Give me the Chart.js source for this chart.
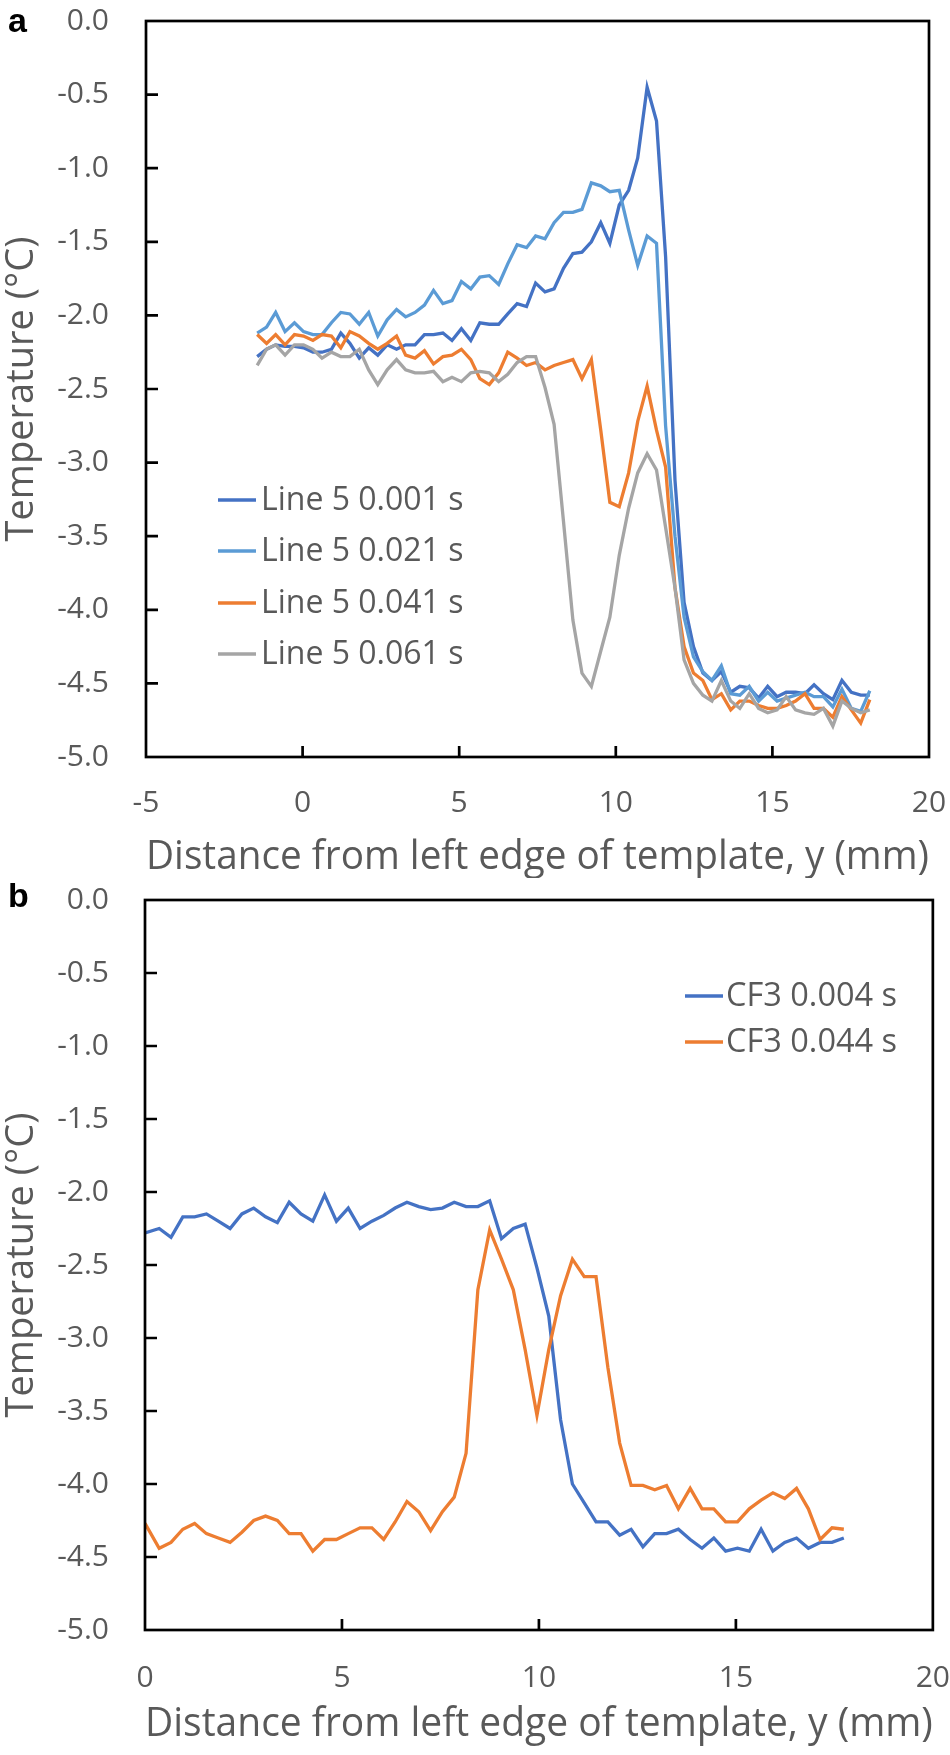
<!DOCTYPE html>
<html>
<head>
<meta charset="utf-8">
<script src="https://cdn.jsdelivr.net/npm/chart.js@4.4.0/dist/chart.umd.min.js"></script>
<style>
  html, body { margin: 0; padding: 0; background: #fff; }
  #wrap { position: relative; width: 950px; height: 1755px; }
  canvas { position: absolute; left: 0; }
</style>
</head>
<body>
<div id="wrap">
  <canvas id="chartA" width="950" height="878" style="top:0"></canvas>
  <canvas id="chartB" width="950" height="877" style="top:878px"></canvas>
</div>
<script>
// --- DATA: panel a (Line 5) ---
const xA = [-1.45, -1.15, -0.86, -0.56, -0.26, 0.03, 0.33, 0.62, 0.92, 1.22,
  1.51, 1.81, 2.11, 2.40, 2.70, 3.00, 3.29, 3.59, 3.89, 4.18,
  4.48, 4.77, 5.07, 5.37, 5.66, 5.96, 6.26, 6.55, 6.85, 7.15,
  7.44, 7.74, 8.03, 8.33, 8.63, 8.92, 9.22, 9.52, 9.81, 10.11,
  10.41, 10.70, 11.00, 11.30, 11.59, 11.89, 12.18, 12.48, 12.78, 13.07,
  13.37, 13.67, 13.96, 14.26, 14.56, 14.85, 15.15, 15.44, 15.74, 16.04,
  16.33, 16.63, 16.93, 17.22, 17.52, 17.82, 18.11];

const line5_001 = [-2.28, -2.23, -2.20, -2.21, -2.21, -2.22, -2.25, -2.25, -2.23, -2.12,
  -2.19, -2.29, -2.22, -2.27, -2.20, -2.23, -2.20, -2.20, -2.13, -2.13,
  -2.12, -2.17, -2.09, -2.17, -2.05, -2.06, -2.06, -1.99, -1.92, -1.94,
  -1.78, -1.84, -1.82, -1.68, -1.58, -1.57, -1.50, -1.37, -1.51, -1.25,
  -1.15, -0.93, -0.45, -0.68, -1.60, -3.12, -3.95, -4.25, -4.43, -4.48,
  -4.42, -4.56, -4.52, -4.53, -4.60, -4.52, -4.59, -4.56, -4.56, -4.57,
  -4.51, -4.57, -4.61, -4.48, -4.56, -4.58, -4.58];

const line5_021 = [-2.12, -2.08, -1.98, -2.11, -2.05, -2.11, -2.13, -2.13, -2.05, -1.98,
  -1.99, -2.06, -1.98, -2.14, -2.03, -1.96, -2.01, -1.98, -1.93, -1.83,
  -1.92, -1.90, -1.77, -1.82, -1.74, -1.73, -1.79, -1.65, -1.52, -1.54,
  -1.46, -1.48, -1.37, -1.30, -1.30, -1.28, -1.10, -1.12, -1.16, -1.15,
  -1.42, -1.66, -1.46, -1.51, -2.75, -3.50, -4.05, -4.32, -4.42, -4.48,
  -4.38, -4.57, -4.58, -4.52, -4.62, -4.56, -4.62, -4.60, -4.58, -4.56,
  -4.59, -4.59, -4.66, -4.54, -4.67, -4.69, -4.55];

const line5_041 = [-2.13, -2.19, -2.13, -2.20, -2.13, -2.14, -2.17, -2.13, -2.14, -2.22,
  -2.11, -2.14, -2.19, -2.23, -2.19, -2.14, -2.27, -2.29, -2.24, -2.33,
  -2.28, -2.27, -2.23, -2.30, -2.43, -2.47, -2.39, -2.25, -2.29, -2.34,
  -2.32, -2.37, -2.34, -2.32, -2.30, -2.43, -2.30, -2.78, -3.27, -3.30,
  -3.07, -2.72, -2.48, -2.78, -3.03, -3.85, -4.25, -4.43, -4.48, -4.61,
  -4.57, -4.68, -4.62, -4.62, -4.65, -4.67, -4.67, -4.65, -4.62, -4.57,
  -4.67, -4.67, -4.73, -4.59, -4.68, -4.77, -4.61];

const line5_061 = [-2.34, -2.23, -2.20, -2.27, -2.20, -2.20, -2.23, -2.29, -2.25, -2.28,
  -2.28, -2.23, -2.37, -2.47, -2.37, -2.30, -2.37, -2.39, -2.39, -2.38,
  -2.45, -2.42, -2.45, -2.39, -2.38, -2.39, -2.45, -2.40, -2.32, -2.28,
  -2.28, -2.49, -2.74, -3.40, -4.07, -4.43, -4.52, -4.28, -4.05, -3.63,
  -3.31, -3.07, -2.94, -3.05, -3.44, -3.85, -4.34, -4.50, -4.58, -4.62,
  -4.48, -4.62, -4.67, -4.57, -4.67, -4.70, -4.68, -4.59, -4.68, -4.70,
  -4.71, -4.67, -4.79, -4.62, -4.67, -4.70, -4.68];

// --- DATA: panel b (CF3) ---
const xB = [0.00, 0.36, 0.66, 0.96, 1.26, 1.56, 1.86, 2.16, 2.46, 2.76,
  3.06, 3.36, 3.66, 3.96, 4.26, 4.56, 4.86, 5.16, 5.46, 5.76,
  6.06, 6.35, 6.65, 6.95, 7.25, 7.55, 7.85, 8.15, 8.45, 8.75,
  9.05, 9.35, 9.65, 9.95, 10.25, 10.55, 10.85, 11.15, 11.45, 11.75,
  12.05, 12.34, 12.64, 12.94, 13.24, 13.54, 13.84, 14.14, 14.44, 14.74,
  15.04, 15.34, 15.64, 15.94, 16.24, 16.54, 16.84, 17.14, 17.44, 17.74];

const cf3_004 = [-2.28, -2.25, -2.31, -2.17, -2.17, -2.15, -2.20, -2.25, -2.15, -2.11,
  -2.17, -2.21, -2.07, -2.15, -2.20, -2.02, -2.20, -2.11, -2.25, -2.20,
  -2.16, -2.11, -2.07, -2.10, -2.12, -2.11, -2.07, -2.10, -2.10, -2.06,
  -2.32, -2.25, -2.22, -2.52, -2.85, -3.56, -4.00, -4.13, -4.26, -4.26,
  -4.35, -4.31, -4.43, -4.34, -4.34, -4.31, -4.38, -4.44, -4.37, -4.46,
  -4.44, -4.46, -4.31, -4.46, -4.40, -4.37, -4.44, -4.40, -4.40, -4.37];

const cf3_044 = [-4.27, -4.44, -4.40, -4.31, -4.27, -4.34, -4.37, -4.40, -4.33, -4.25,
  -4.22, -4.25, -4.34, -4.34, -4.46, -4.38, -4.38, -4.34, -4.30, -4.30,
  -4.38, -4.26, -4.12, -4.19, -4.32, -4.19, -4.09, -3.79, -2.67, -2.26,
  -2.46, -2.67, -3.08, -3.53, -3.08, -2.71, -2.46, -2.58, -2.58, -3.20,
  -3.72, -4.01, -4.01, -4.04, -4.01, -4.17, -4.03, -4.17, -4.17, -4.26,
  -4.26, -4.17, -4.11, -4.06, -4.10, -4.03, -4.17, -4.38, -4.30, -4.31];

// --- TICKS ---
const xTicksA = [-5, 0, 5, 10, 15, 20];
const xTicksB = [0, 5, 10, 15, 20];
const yTicks = [0, -0.5, -1, -1.5, -2, -2.5, -3, -3.5, -4, -4.5, -5];

const xTitle = "Distance from left edge of template, y (mm)";
const yTitle = "Temperature (°C)";

const GREY = "#595959";
Chart.defaults.font.family = "'Open Sans', sans-serif";
Chart.defaults.color = GREY;

function pts(xs, ys) {
  return xs.map((x, i) => ({ x: x, y: ys[i] }));
}

// frame, inward tick marks, in-plot legend and panel letter
const decorPlugin = {
  id: "decor",
  afterDatasetsDraw(chart, args, o) {
    const { ctx, chartArea: a, scales } = chart;
    const x = scales.x, y = scales.y;
    ctx.save();
    ctx.strokeStyle = "#000";
    ctx.lineWidth = 2.7;
    ctx.beginPath();
    y.ticks.forEach(t => {
      if (t.value <= y.min || t.value >= y.max) return;
      const py = y.getPixelForValue(t.value);
      ctx.moveTo(a.left, py);
      ctx.lineTo(a.left + 12, py);
    });
    x.ticks.forEach(t => {
      if (t.value <= x.min || t.value >= x.max) return;
      const px = x.getPixelForValue(t.value);
      ctx.moveTo(px, a.bottom);
      ctx.lineTo(px, a.bottom - 11);
    });
    ctx.stroke();
    ctx.strokeRect(a.left, a.top, a.right - a.left, a.bottom - a.top);

    // legend
    ctx.font = o.legendSize + "px 'Open Sans', sans-serif";
    ctx.textBaseline = "middle";
    ctx.textAlign = "left";
    chart.data.datasets.forEach((ds, i) => {
      const ry = o.rows[i];
      ctx.strokeStyle = ds.borderColor;
      ctx.lineWidth = 3.3;
      ctx.beginPath();
      ctx.moveTo(o.lineX0, ry);
      ctx.lineTo(o.lineX1, ry);
      ctx.stroke();
      ctx.fillStyle = GREY;
      ctx.fillText(ds.label, o.textX, ry + 1);
    });

    // panel letter
    ctx.font = "bold 34px 'Liberation Sans', Arial, sans-serif";
    ctx.textBaseline = "alphabetic";
    ctx.fillStyle = "#000";
    ctx.fillText(o.letter, 8, o.letterY);
    ctx.restore();
  }
};

function makeChart(id, datasets, xTicks, g) {
  return new Chart(document.getElementById(id), {
    type: "scatter",
    data: { datasets: datasets },
    options: {
      responsive: false,
      animation: false,
      devicePixelRatio: 1,
      layout: { padding: { left: 0, right: g.padRight, top: g.padTop, bottom: 0 } },
      datasets: {
        scatter: { showLine: true, pointRadius: 0, borderWidth: 3.3, tension: 0, fill: false }
      },
      scales: {
        x: {
          type: "linear",
          min: xTicks[0],
          max: xTicks[xTicks.length - 1],
          afterBuildTicks: s => { s.ticks = xTicks.map(v => ({ value: v })); },
          afterFit: s => { s.height = g.xHeight; },
          grid: { display: false, drawTicks: true, tickLength: g.xTickGap },
          border: { display: false },
          ticks: {
            autoSkip: false, maxRotation: 0, padding: 0,
            font: { size: 30, lineHeight: 1.2 }, color: GREY,
            callback: v => String(v)
          },
          title: {
            display: true, text: xTitle, color: GREY,
            font: { size: 40, lineHeight: 1 },
            padding: { top: 0, bottom: g.xTitlePad }
          }
        },
        y: {
          type: "linear",
          min: -5,
          max: 0,
          afterBuildTicks: s => { s.ticks = yTicks.map(v => ({ value: v })); },
          afterFit: s => { s.width = g.yWidth; },
          grid: { display: false, drawTicks: true, tickLength: g.yTickGap },
          border: { display: false },
          ticks: {
            autoSkip: false, padding: 0,
            font: { size: 30, lineHeight: 1.2 }, color: GREY,
            callback: v => Math.abs(v) < 1e-9 ? "0.0" : Number(v).toFixed(1)
          },
          title: {
            display: true, text: yTitle, color: GREY,
            font: { size: 38, lineHeight: 1 },
            padding: { top: 3, bottom: 0 }
          }
        }
      },
      plugins: {
        legend: { display: false },
        tooltip: { enabled: false },
        decor: g.decor
      }
    },
    plugins: [decorPlugin]
  });
}

makeChart("chartA", [
  { label: "Line 5 0.001 s", data: pts(xA, line5_001), borderColor: "#4472C4", order: 4 },
  { label: "Line 5 0.021 s", data: pts(xA, line5_021), borderColor: "#5B9BD5", order: 3 },
  { label: "Line 5 0.041 s", data: pts(xA, line5_041), borderColor: "#ED7D31", order: 2 },
  { label: "Line 5 0.061 s", data: pts(xA, line5_061), borderColor: "#A5A5A5", order: 1 }
], xTicksA, {
  padRight: 21, padTop: 21, xHeight: 121, yWidth: 146,
  xTickGap: 28, xTitlePad: 0, yTickGap: 37,
  decor: { legendSize: 32, rows: [500, 551, 603, 654], lineX0: 218, lineX1: 256, textX: 261, letter: "a", letterY: 32 }
});

makeChart("chartB", [
  { label: "CF3 0.004 s", data: pts(xB, cf3_004), borderColor: "#4472C4", order: 2 },
  { label: "CF3 0.044 s", data: pts(xB, cf3_044), borderColor: "#ED7D31", order: 1 }
], xTicksB, {
  padRight: 17, padTop: 22, xHeight: 125, yWidth: 145,
  xTickGap: 30, xTitlePad: 10, yTickGap: 36,
  decor: { legendSize: 32.5, rows: [118, 164], lineX0: 685, lineX1: 723, textX: 726, letter: "b", letterY: 29 }
});
</script>
</body>
</html>
